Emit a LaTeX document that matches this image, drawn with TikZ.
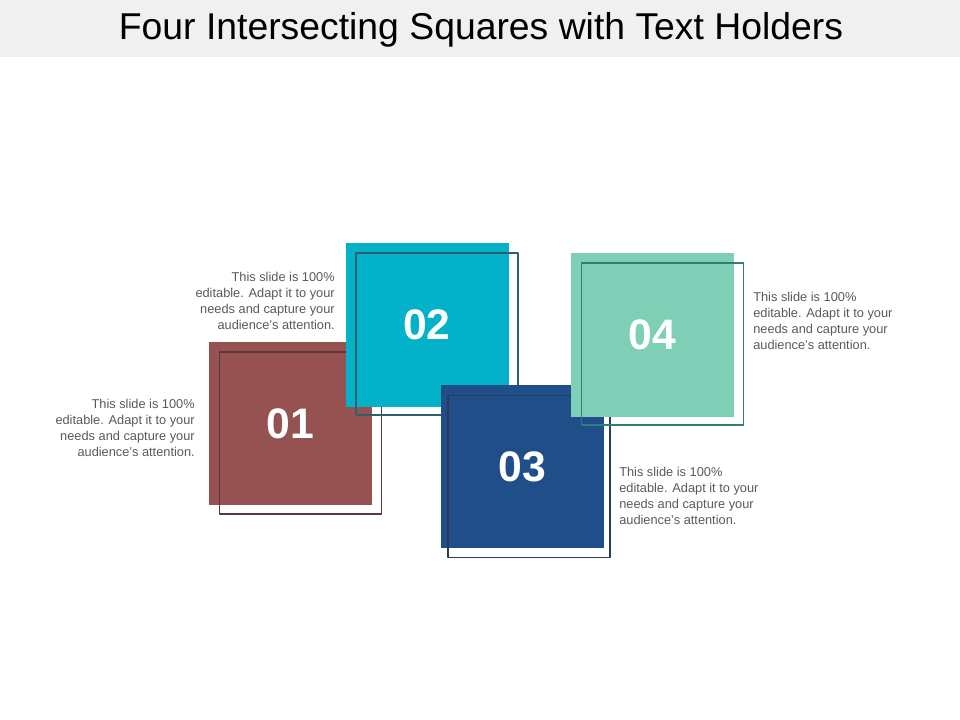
\documentclass[tikz,border=0pt]{standalone}
\usepackage{fontspec}
\setmainfont{Liberation Sans}
\usetikzlibrary{positioning}
\definecolor{nen}{HTML}{F0F0F0}
\definecolor{chu}{HTML}{595959}
\definecolor{mau1}{HTML}{955251}
\definecolor{vien1}{HTML}{5E3838}
\definecolor{mau2}{HTML}{03B1C9}
\definecolor{vien2}{HTML}{2F5F6C}
\definecolor{mau3}{HTML}{1F4E89}
\definecolor{vien3}{HTML}{2B3A55}
\definecolor{mau4}{HTML}{7ECFB5}
\definecolor{vien4}{HTML}{2E8070}
\begin{document}
\begin{tikzpicture}[x=0.75pt,y=-0.75pt,line join=round,
	ovuong/.style={minimum size=122.25pt,inner sep=0pt,outer sep=0pt,text=white,font=\fontsize{32}{36}\selectfont\bfseries},
	khung/.style={minimum size=121.5pt,inner sep=0pt,outer sep=0pt,line width=1pt},
	ghichu/.style={inner sep=0pt,text=chu,font=\fontsize{9.6}{12}\selectfont}]
	%Gán số liệu.
	\def\W{960};\def\H{720};
	%Khung trang.
	\useasboundingbox (0,0) rectangle (\W,\H);
	\fill[nen] (0,0) rectangle (\W,57);
	\node (tieude) at (481,30) {\fontsize{28}{32}\selectfont Four Intersecting Squares with Text Holders};
	%Các hình vuông.
	\foreach \n/\x/\y/\dx/\dy in {1/290.5/423.5/10/9.5,2/427/325/10/9,3/522.5/466.5/6.5/10,4/652.5/335/10/9}{
		\node[ovuong,fill=mau\n] (o\n) at (\x,\y) {0\n};
		\node[khung,draw=vien\n] (k\n) at ([shift={(\dx,\dy)}]o\n.center) {};
	}
	%Ghi chú.
	\node[ghichu,align=right,anchor=east] (g1) at (195,428) {This slide is 100\%\\ editable. Adapt it to your\\ needs and capture your\\ audience's attention.};
	\node[ghichu,align=right,anchor=east] (g2) at (335,301) {This slide is 100\%\\ editable. Adapt it to your\\ needs and capture your\\ audience's attention.};
	\node[ghichu,align=left,anchor=west] (g3) at (619,496) {This slide is 100\%\\ editable. Adapt it to your\\ needs and capture your\\ audience's attention.};
	\node[ghichu,align=left,anchor=west] (g4) at (753,321) {This slide is 100\%\\ editable. Adapt it to your\\ needs and capture your\\ audience's attention.};
\end{tikzpicture}
\end{document}
